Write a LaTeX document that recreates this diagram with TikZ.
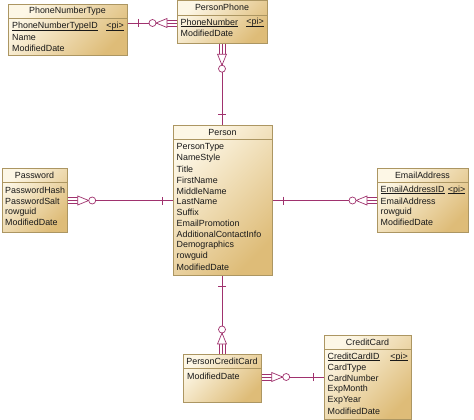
\documentclass[tikz,border=0pt]{standalone}
\usepackage{fontspec}
\setmainfont{Liberation Sans}
\definecolor{relc}{RGB}{160,50,110}
\definecolor{boxline}{RGB}{172,150,98}
\definecolor{boxlight}{RGB}{253,247,230}
\definecolor{boxdark}{RGB}{222,188,120}
\definecolor{txt}{RGB}{25,25,25}
\newcommand\myul[1]{\setbox0\hbox{#1}\rlap{\rule[-1.4pt]{\wd0}{0.55pt}}\box0}
\begin{document}
\begin{tikzpicture}[x=1pt,y=-1pt,
  entity/.style={draw=boxline, line width=0.7pt, rectangle, inner sep=0pt, anchor=north west,
    top color=boxlight, bottom color=boxdark, shading angle=45},
  attr/.style={font=\fontsize{8.9}{10}\selectfont, text=txt, inner sep=0pt, anchor=west},
  pk/.style={attr},
  hdr/.style={font=\fontsize{8.9}{10}\selectfont, text=txt, inner sep=0pt},
  sepline/.style={draw=boxline, line width=0.7pt},
  rel/.style={draw=relc, line width=0.7pt},
  dep/.pic={
    \draw[rel] (0,-3)--(10,-3) (0,0)--(10,0) (0,3)--(10,3);
    \draw[rel, fill=white] (10,-4.5)--(21,0)--(10,4.5)--cycle;
    \draw[rel, fill=white] (24.5,0) circle[radius=3.5pt];
  },
  one/.pic={\draw[rel] (11,-4)--(11,4);}
]
\useasboundingbox[fill=white] (0,0) rectangle (474,420);

% ---------- coordinates for connector levels
\coordinate (y23) at (0,23);
\coordinate (y200) at (0,200.5);
\coordinate (y377) at (0,377);
\coordinate (x222) at (222,0);

% ---------- entities
\node[entity, minimum width=119pt, minimum height=51pt] (pnt) at (8,4) {};
\node[entity, minimum width=90pt, minimum height=43pt] (pp) at (177,0.5) {};
\node[entity, minimum width=99pt, minimum height=150pt] (person) at (173,125) {};
\node[entity, minimum width=65pt, minimum height=64pt] (pw) at (2,168) {};
\node[entity, minimum width=91pt, minimum height=64pt] (ea) at (377,168) {};
\node[entity, minimum width=78pt, minimum height=48pt] (pcc) at (183,354) {};
\node[entity, minimum width=87pt, minimum height=84pt] (cc) at (324,335) {};

% header separators
\draw[sepline] ([yshift=-14.5pt]pnt.north west) -- ([yshift=-14.5pt]pnt.north east);
\draw[sepline] ([yshift=-14.5pt]pp.north west) -- ([yshift=-14.5pt]pp.north east);
\draw[sepline] ([yshift=-14pt]person.north west) -- ([yshift=-14pt]person.north east);
\draw[sepline] ([yshift=-14.5pt]pw.north west) -- ([yshift=-14.5pt]pw.north east);
\draw[sepline] ([yshift=-14.5pt]ea.north west) -- ([yshift=-14.5pt]ea.north east);
\draw[sepline] ([yshift=-14pt]pcc.north west) -- ([yshift=-14pt]pcc.north east);
\draw[sepline] ([yshift=-14pt]cc.north west) -- ([yshift=-14pt]cc.north east);

% headers
\node[hdr] (pnth) at (67.5,11.5) {PhoneNumberType};
\node[hdr] (pph) at (222,7.5) {PersonPhone};
\node[hdr] (personh) at (222.5,132) {Person};
\node[hdr] (pwh) at (34.5,175.5) {Password};
\node[hdr] (eah) at (422.5,175.5) {EmailAddress};
\node[hdr] (pcch) at (222,361) {PersonCreditCard};
\node[hdr] (cch) at (367.5,342) {CreditCard};

% PhoneNumberType
\node[pk] (pnt1) at (12,26.5) {\myul{PhoneNumberTypeID}};
\node[attr, anchor=east] (pnt1pi) at (124,26.5) {\myul{<pi>}};
\node[attr] (pnt2) at (12,37.4) {Name};
\node[attr] (pnt3) at (12,48.2) {ModifiedDate};

% PersonPhone
\node[pk] (pp1) at (180.5,22.5) {\myul{PhoneNumber}};
\node[attr, anchor=east] (pp1pi) at (264,22.5) {\myul{<pi>}};
\node[attr] (pp2) at (180.5,33.4) {ModifiedDate};

% Person
\foreach \t [count=\i] in {PersonType,NameStyle,Title,FirstName,MiddleName,LastName,Suffix,EmailPromotion,AdditionalContactInfo,Demographics,rowguid,ModifiedDate}
  \node[attr] (pa\i) at (176.5,{147.5+(\i-1)*10.85}) {\t};

% Password
\foreach \t [count=\i] in {PasswordHash,PasswordSalt,rowguid,ModifiedDate}
  \node[attr] (pw\i) at (5,{190+(\i-1)*10.85}) {\t};

% EmailAddress
\node[pk] (ea1) at (380.5,190) {\myul{EmailAddressID}};
\node[attr, anchor=east] (ea1pi) at (465.5,190) {\myul{<pi>}};
\foreach \t [count=\i from 2] in {EmailAddress,rowguid,ModifiedDate}
  \node[attr] (ea\i) at (380.5,{190+(\i-1)*10.85}) {\t};

% PersonCreditCard
\node[attr] (pcc1) at (187,376.5) {ModifiedDate};

% CreditCard
\node[pk] (cc1) at (327.5,357) {\myul{CreditCardID}};
\node[attr, anchor=east] (cc1pi) at (408,357) {\myul{<pi>}};
\foreach \t [count=\i from 2] in {CardType,CardNumber,ExpMonth,ExpYear,ModifiedDate}
  \node[attr] (cc\i) at (327.5,{357+(\i-1)*10.85}) {\t};

% ---------- connectors
\draw[rel] (pnt.east |- y23) -- (pp.west |- y23);
\pic[rotate=180] at (pp.west |- y23) {dep};
\pic at (pnt.east |- y23) {one};

\draw[rel] (pp.south -| x222) -- (person.north -| x222);
\pic[rotate=-90] at (pp.south -| x222) {dep};
\pic[rotate=90] at (person.north -| x222) {one};

\draw[rel] (pw.east |- y200) -- (person.west |- y200);
\pic at (pw.east |- y200) {dep};
\pic[rotate=180] at (person.west |- y200) {one};

\draw[rel] (ea.west |- y200) -- (person.east |- y200);
\pic[rotate=180] at (ea.west |- y200) {dep};
\pic at (person.east |- y200) {one};

\draw[rel] (pcc.north -| x222) -- (person.south -| x222);
\pic[rotate=90] at (pcc.north -| x222) {dep};
\pic[rotate=-90] at (person.south -| x222) {one};

\draw[rel] (pcc.east |- y377) -- (cc.west |- y377);
\pic at (pcc.east |- y377) {dep};
\pic[rotate=180] at (cc.west |- y377) {one};
\end{tikzpicture}
\end{document}
